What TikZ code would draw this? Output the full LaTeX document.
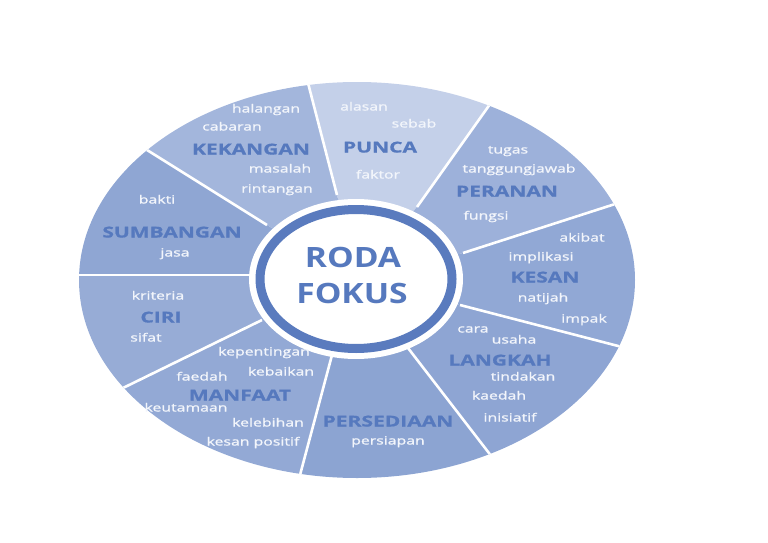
\documentclass[tikz,border=0pt]{standalone}
\usepackage{fontspec}
\usetikzlibrary{calc}
\newfontfamily\wordfont[FakeStretch=1.4,FakeBold=1.2]{Open Sans}
\newfontfamily\headfont[FakeStretch=1.4,FakeBold=0.8]{Open Sans}
\newfontfamily\titlefont[FakeStretch=1.2]{Open Sans}
\definecolor{cKek}{HTML}{A3B6DC}
\definecolor{cPun}{HTML}{C4D0E9}
\definecolor{cPer}{HTML}{9DB1DA}
\definecolor{cKes}{HTML}{91A8D5}
\definecolor{cLan}{HTML}{8EA5D3}
\definecolor{cPsd}{HTML}{8CA4D2}
\definecolor{cMan}{HTML}{93A9D5}
\definecolor{cCir}{HTML}{97ACD6}
\definecolor{cSum}{HTML}{8FA6D3}
\definecolor{wordc}{HTML}{F2F5FB}
\definecolor{headc}{HTML}{5679BE}
\definecolor{ringc}{HTML}{5A7BBE}
\tikzset{
  word/.style={text=wordc, font=\wordfont\fontsize{11.3}{13}\selectfont, inner sep=0pt, anchor=base},
  head/.style={text=headc, font=\headfont\bfseries\fontsize{15}{17}\selectfont, inner sep=0pt, anchor=base},
  title/.style={text=headc, font=\titlefont\bfseries\fontsize{28}{30}\selectfont, inner sep=0pt, anchor=base},
  spoke/.style={draw=white, line width=2.6pt},
}
\begin{document}
\begin{tikzpicture}[x=1pt,y=-1pt]
\useasboundingbox (0,0) rectangle (768,543);
\coordinate (C) at (357,280);
% spokes: inner and outer points
\coordinate (i1) at (337,195); \coordinate (o1) at (308,83);
\coordinate (i2) at (417,207); \coordinate (o2) at (488,107);
\coordinate (i3) at (463,253); \coordinate (o3) at (612,205);
\coordinate (i4) at (460,305); \coordinate (o4) at (622,347);
\coordinate (i5) at (408,348); \coordinate (o5) at (492,457);
\coordinate (i6) at (332,355); \coordinate (o6) at (300,475);
\coordinate (i7) at (262,320); \coordinate (o7) at (123,388);
\coordinate (i8) at (252,275); \coordinate (o8) at (78,275);
\coordinate (i9) at (267,225); \coordinate (o9) at (147,150);
\foreach \k in {1,...,9} {\coordinate (f\k) at ($(i\k)!1.6!(o\k)$);}
\begin{scope}
  \clip (357,280) ellipse [x radius=278, y radius=198];
  \fill[cPun] (C) -- (i1) -- (f1) -- (f2) -- (i2) -- cycle;
  \fill[cPer] (C) -- (i2) -- (f2) -- (f3) -- (i3) -- cycle;
  \fill[cKes] (C) -- (i3) -- (f3) -- (f4) -- (i4) -- cycle;
  \fill[cLan] (C) -- (i4) -- (f4) -- (f5) -- (i5) -- cycle;
  \fill[cPsd] (C) -- (i5) -- (f5) -- (f6) -- (i6) -- cycle;
  \fill[cMan] (C) -- (i6) -- (f6) -- (f7) -- (i7) -- cycle;
  \fill[cCir] (C) -- (i7) -- (f7) -- (f8) -- (i8) -- cycle;
  \fill[cSum] (C) -- (i8) -- (f8) -- (f9) -- (i9) -- cycle;
  \fill[cKek] (C) -- (i9) -- (f9) -- (f1) -- (i1) -- cycle;
  \foreach \k in {1,...,9} {\draw[spoke] (i\k) -- (f\k);}
\end{scope}
% centre
\fill[white] (356,279) ellipse [x radius=107, y radius=80];
\draw[ringc, line width=9pt] (356,279) ellipse [x radius=96, y radius=69.5];
\node[title] (roda) at (353,267) {RODA};
\node[title] (fokus) at (352,303) {FOKUS};
% KEKANGAN
\node[word] (halangan) at (266,112.5) {halangan};
\node[word] (cabaran) at (232,130.5) {cabaran};
\node[head] (kekangan) at (251,154.5) {KEKANGAN};
\node[word] (masalah) at (280,172.5) {masalah};
\node[word] (rintangan) at (277,192.5) {rintangan};
% SUMBANGAN
\node[word] (bakti) at (157,203.5) {bakti};
\node[head] (sumbangan) at (172,237.5) {SUMBANGAN};
\node[word] (jasa) at (175,256.5) {jasa};
% PUNCA
\node[word] (alasan) at (364,110.5) {alasan};
\node[word] (sebab) at (414,127.5) {sebab};
\node[head] (punca) at (380,152.5) {PUNCA};
\node[word] (faktor) at (378,178.5) {faktor};
% PERANAN
\node[word] (tugas) at (508,153.5) {tugas};
\node[word] (tanggung) at (519,172.5) {tanggungjawab};
\node[head] (peranan) at (507,196.5) {PERANAN};
\node[word] (fungsi) at (486,219.5) {fungsi};
% KESAN
\node[word] (akibat) at (582,241.5) {akibat};
\node[word] (implikasi) at (541,260.5) {implikasi};
\node[head] (kesan) at (545,282.5) {KESAN};
\node[word] (natijah) at (543,301.5) {natijah};
\node[word] (impak) at (584,322.5) {impak};
% LANGKAH
\node[word] (cara) at (473,332.5) {cara};
\node[word] (usaha) at (514,343.5) {usaha};
\node[head] (langkah) at (500,365.5) {LANGKAH};
\node[word] (tindakan) at (523,380.5) {tindakan};
\node[word] (kaedah) at (499,399.5) {kaedah};
\node[word] (inisiatif) at (510,421.5) {inisiatif};
% PERSEDIAAN
\node[head] (persediaan) at (388,426.5) {PERSEDIAAN};
\node[word] (persiapan) at (388,444.5) {persiapan};
% MANFAAT
\node[word] (kepentingan) at (264,355.5) {kepentingan};
\node[word] (kebaikan) at (281,375.5) {kebaikan};
\node[word] (faedah) at (202,380.5) {faedah};
\node[head] (manfaat) at (240,400.5) {MANFAAT};
\node[word] (keutamaan) at (186,411.5) {keutamaan};
\node[word] (kelebihan) at (268,426.5) {kelebihan};
\node[word] (kesanpositif) at (253,445.5) {kesan positif};
% CIRI
\node[word] (kriteria) at (158,299.5) {kriteria};
\node[head] (ciri) at (161,322.5) {CIRI};
\node[word] (sifat) at (146,341.5) {sifat};
\end{tikzpicture}
\end{document}
